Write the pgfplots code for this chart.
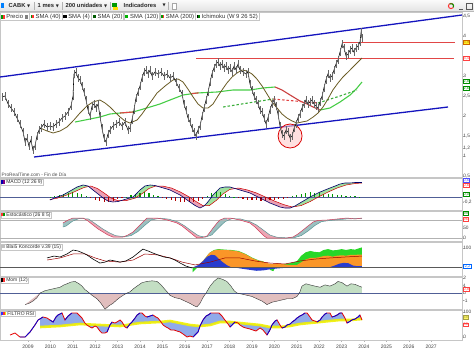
\documentclass[border=0pt]{standalone}
\usepackage{pgfplots}
\pgfplotsset{compat=1.18}
\usepackage{pgfplotstable}
\usepgfplotslibrary{fillbetween}
\usepackage{fontspec}
\setmainfont{Liberation Sans}
\newfontfamily\dejavu{DejaVu Sans}
\definecolor{chan}{RGB}{20,20,190}
\definecolor{hred}{RGB}{225,70,70}
\definecolor{smab}{RGB}{105,90,35}
\definecolor{smag}{RGB}{70,205,70}
\definecolor{macdg}{RGB}{160,225,160}
\definecolor{macdp}{RGB}{235,160,180}
\definecolor{kor}{RGB}{250,150,40}
\definecolor{kbl}{RGB}{40,60,205}
\definecolor{kgr}{RGB}{40,215,40}
\definecolor{momg}{RGB}{195,222,195}
\definecolor{momr}{RGB}{225,190,190}
\definecolor{rsib}{RGB}{125,155,230}
\definecolor{yel}{RGB}{240,240,0}
\definecolor{stt}{RGB}{90,150,150}
\definecolor{str}{RGB}{210,60,90}
\definecolor{zline}{RGB}{80,95,150}

\pgfplotstableread{
x y
2007.84 2.475
2007.97 2.50
2008.11 2.30
2008.24 2.20
2008.38 2.10
2008.51 1.95
2008.64 1.80
2008.78 1.60
2008.87 1.35
2008.96 1.45
2009.04 1.25
2009.13 1.40
2009.22 1.15
2009.31 1.25
2009.40 1.50
2009.49 1.65
2009.58 1.70
2009.71 1.80
2009.85 1.725
2009.98 1.75
2010.12 1.725
2010.25 1.80
2010.38 1.85
2010.52 1.95
2010.65 2.00
2010.79 2.10
2010.92 2.25
2011.01 2.50
2011.05 3.05
2011.14 3.10
2011.23 2.95
2011.32 2.90
2011.41 2.75
2011.50 2.60
2011.59 2.40
2011.68 2.15
2011.77 2.00
2011.86 2.25
2011.95 2.30
2012.04 2.20
2012.13 2.30
2012.21 2.00
2012.30 1.70
2012.39 1.45
2012.48 1.35
2012.57 1.55
2012.66 1.65
2012.79 1.75
2012.93 1.80
2013.06 1.85
2013.20 1.75
2013.33 1.85
2013.46 1.65
2013.55 1.70
2013.64 1.90
2013.73 2.15
2013.82 2.45
2013.91 2.60
2014.00 2.75
2014.09 2.95
2014.18 3.10
2014.27 3.15
2014.36 3.05
2014.45 3.15
2014.54 3.00
2014.67 3.10
2014.80 3.05
2014.94 3.10
2015.07 3.00
2015.21 3.05
2015.34 2.95
2015.47 3.00
2015.61 2.85
2015.74 2.70
2015.88 2.55
2015.96 2.30
2016.05 2.15
2016.14 1.95
2016.23 1.85
2016.32 1.70
2016.41 1.60
2016.50 1.50
2016.59 1.65
2016.68 1.75
2016.77 2.00
2016.86 2.20
2016.95 2.40
2017.04 2.60
2017.13 2.85
2017.21 3.05
2017.30 3.20
2017.39 3.30
2017.48 3.35
2017.57 3.25
2017.66 3.30
2017.75 3.20
2017.84 3.25
2017.93 3.15
2018.02 3.20
2018.11 3.10
2018.20 3.25
2018.29 3.15
2018.38 3.30
2018.46 3.15
2018.60 3.10
2018.73 3.05
2018.82 3.10
2018.91 2.80
2019.00 2.65
2019.09 2.50
2019.18 2.40
2019.27 2.30
2019.36 2.15
2019.45 2.10
2019.54 1.95
2019.63 1.80
2019.71 1.95
2019.80 2.15
2019.89 2.30
2019.98 2.40
2020.07 2.25
2020.16 2.05
2020.25 1.75
2020.34 1.55
2020.43 1.50
2020.52 1.65
2020.61 1.60
2020.70 1.45
2020.79 1.50
2020.88 1.70
2020.96 1.80
2021.05 1.95
2021.14 2.05
2021.23 2.20
2021.32 2.30
2021.41 2.40
2021.50 2.30
2021.59 2.35
2021.68 2.40
2021.77 2.30
2021.86 2.25
2021.95 2.20
2022.04 2.35
2022.13 2.50
2022.21 2.70
2022.30 2.90
2022.39 3.05
2022.48 2.95
2022.57 3.00
2022.66 3.15
2022.75 3.30
2022.84 3.40
2022.93 3.60
2023.02 3.80
2023.11 3.70
2023.20 3.50
2023.29 3.55
2023.38 3.65
2023.46 3.70
2023.55 3.60
2023.64 3.70
2023.73 3.75
2023.82 3.85
2023.87 4.10
2023.91 3.95
}\price

\pgfplotstableread{
x y
2009.54 1.70
2009.85 1.625
2010.12 1.575
2010.43 1.625
2010.74 1.725
2011.05 1.90
2011.32 2.075
2011.63 2.25
2011.90 2.35
2012.21 2.40
2012.44 2.325
2012.66 2.225
2012.88 2.10
2013.11 1.975
2013.33 1.875
2013.55 1.825
2013.87 1.90
2014.09 2.05
2014.31 2.225
2014.54 2.40
2014.76 2.575
2015.12 2.75
2015.47 2.90
2015.70 2.925
2015.92 2.85
2016.14 2.675
2016.37 2.475
2016.59 2.30
2016.81 2.20
2017.04 2.20
2017.26 2.30
2017.48 2.50
2017.66 2.65
2017.88 2.825
2018.11 2.975
2018.33 3.075
2018.55 3.15
2018.78 3.125
2019.00 3.05
2019.22 2.925
2019.45 2.75
2019.67 2.55
2019.89 2.35
2020.12 2.20
2020.34 2.05
2020.56 1.95
2020.79 1.875
2021.01 1.825
2021.23 1.85
2021.46 1.875
2021.73 1.975
2021.95 2.075
2022.17 2.225
2022.39 2.425
2022.61 2.65
2022.84 2.825
2023.06 2.975
2023.29 3.10
2023.51 3.225
2023.73 3.35
2023.91 3.45
}\smabrown

\pgfplotstableread{
x y
2009.98 -0.12
2010.29 0
2010.56 0.08
2010.88 0.24
2011.19 0.40
2011.46 0.48
2011.68 0.44
2011.90 0.28
2012.13 0.12
2012.35 -0.04
2012.57 -0.16
2012.79 -0.20
2013.02 -0.18
2013.24 -0.12
2013.46 -0.06
2013.69 0
2013.87 0.16
2014.00 0.28
2014.22 0.44
2014.45 0.48
2014.67 0.46
2014.89 0.40
2015.12 0.34
2015.34 0.28
2015.56 0.18
2015.79 0.08
2016.01 -0.06
2016.23 -0.20
2016.46 -0.34
2016.68 -0.44
2016.86 -0.36
2016.99 -0.24
2017.13 -0.08
2017.26 0.08
2017.44 0.24
2017.57 0.36
2017.79 0.40
2018.02 0.40
2018.24 0.34
2018.46 0.28
2018.69 0.22
2018.91 0.16
2019.13 0.06
2019.36 -0.04
2019.58 -0.14
2019.80 -0.24
2020.03 -0.32
2020.25 -0.40
2020.47 -0.44
2020.70 -0.44
2020.92 -0.36
2021.14 -0.24
2021.37 -0.12
2021.59 0
2021.81 0.10
2022.04 0.20
2022.26 0.28
2022.48 0.36
2022.71 0.44
2022.93 0.52
2023.15 0.56
2023.38 0.56
2023.60 0.58
2023.91 0.58
}\macd

\pgfplotstableread{
x y
2009.98 -0.10
2010.3 -0.05
2010.8 0.10
2011.2 0.26
2011.5 0.38
2011.8 0.44
2012.1 0.34
2012.4 0.16
2012.7 -0.04
2013.0 -0.14
2013.4 -0.14
2013.8 -0.04
2014.1 0.14
2014.4 0.34
2014.7 0.44
2015.0 0.44
2015.4 0.36
2015.8 0.20
2016.2 0.00
2016.5 -0.18
2016.8 -0.34
2017.1 -0.34
2017.4 -0.14
2017.7 0.12
2018.0 0.30
2018.4 0.36
2018.8 0.28
2019.2 0.16
2019.6 0.00
2020.0 -0.16
2020.4 -0.30
2020.8 -0.40
2021.2 -0.34
2021.6 -0.18
2022.0 0.02
2022.4 0.20
2022.8 0.36
2023.2 0.48
2023.6 0.54
2023.91 0.56
}\macdsig

\pgfplotstableread{
x y
2010.0 0.02
2010.2 0.05
2010.4 0.10
2010.6 0.14
2010.8 0.18
2011.0 0.20
2011.2 0.18
2011.4 0.12
2011.6 0.05
2011.8 -0.04
2012.0 -0.10
2012.2 -0.16
2012.4 -0.20
2012.6 -0.18
2012.8 -0.14
2013.0 -0.08
2013.2 -0.04
2013.4 0.02
2013.6 0.08
2013.8 0.14
2014.0 0.18
2014.2 0.20
2014.4 0.16
2014.6 0.10
2014.8 0.04
2015.0 -0.03
2015.2 -0.08
2015.4 -0.12
2015.6 -0.16
2015.8 -0.18
2016.0 -0.20
2016.2 -0.20
2016.4 -0.18
2016.6 -0.14
2016.8 -0.06
2017.0 0.06
2017.2 0.16
2017.4 0.22
2017.6 0.20
2017.8 0.12
2018.0 0.06
2018.2 0.02
2018.4 -0.04
2018.6 -0.08
2018.8 -0.10
2019.0 -0.12
2019.2 -0.12
2019.4 -0.14
2019.6 -0.14
2019.8 -0.12
2020.0 -0.10
2020.2 -0.08
2020.4 -0.06
2020.6 -0.03
2020.8 0.04
2021.0 0.10
2021.2 0.14
2021.4 0.18
2021.6 0.20
2021.8 0.18
2022.0 0.16
2022.2 0.14
2022.4 0.14
2022.6 0.12
2022.8 0.10
2023.0 0.08
2023.2 0.06
2023.4 0.04
2023.6 0.03
2023.8 0.02
}\macdhist

\pgfplotstableread{
x y
2010.56 75
2010.79 90
2011.01 100
2011.46 100
2011.68 85
2011.90 65
2012.13 45
2012.35 30
2012.57 15
2012.79 5
2013.24 5
2013.46 15
2013.69 30
2013.87 50
2014.00 65
2014.18 85
2014.31 100
2014.76 100
2015.21 90
2015.65 75
2015.88 60
2016.10 40
2016.32 20
2016.54 0
2016.77 2
2016.99 10
2017.13 30
2017.26 50
2017.44 75
2017.57 90
2017.79 100
2018.02 100
2018.46 90
2018.91 75
2019.13 55
2019.36 30
2019.54 10
2019.67 0
2020.25 0
2020.56 0
2020.83 5
2021.05 20
2021.28 40
2021.50 60
2021.73 80
2021.95 88
2022.35 90
2022.80 95
2023.24 100
2023.60 95
2023.91 100
}\stochk

\pgfplotstableread{
x y
2010.56 55
2010.7 60
2011.0 85
2011.3 98
2011.7 95
2012.0 72
2012.3 48
2012.6 28
2012.9 12
2013.3 6
2013.6 12
2013.9 32
2014.2 62
2014.5 90
2014.9 99
2015.3 94
2015.7 80
2016.0 60
2016.3 35
2016.6 12
2016.9 4
2017.2 15
2017.5 50
2017.8 82
2018.1 97
2018.5 95
2018.9 82
2019.2 65
2019.5 40
2019.8 15
2020.1 4
2020.5 1
2020.9 2
2021.2 12
2021.5 35
2021.8 62
2022.1 82
2022.5 88
2022.9 92
2023.3 96
2023.91 97
}\stochd

\pgfplotstableread{
x y
2009.85 48
2010.16 58
2010.43 53
2010.74 69
2011.01 90
2011.23 85
2011.46 74
2011.63 64
2011.90 42
2012.21 21
2012.44 26
2012.66 37
2012.88 32
2013.11 26
2013.37 32
2013.69 53
2013.91 74
2014.13 95
2014.36 85
2014.58 74
2014.80 64
2015.07 53
2015.34 48
2015.56 37
2015.79 21
2016.05 5
2016.32 -5
}\kblack

\pgfplotstableread{
x y
2009.85 37
2010.43 48
2011.01 69
2011.55 69
2012.00 48
2012.44 32
2013.11 26
2013.69 37
2014.22 69
2014.80 64
2015.34 48
2015.88 26
2016.46 11
2017.13 26
2017.79 48
2018.46 48
2019.13 32
2019.80 21
2020.47 16
2021.14 32
2021.81 42
2022.48 48
2023.15 53
2023.91 58
}\kbrown

\pgfplotstableread{
x y
2016.35 -28
2016.5 -10
2016.7 15
2016.9 45
2017.1 75
2017.3 90
2017.5 95
2017.8 92
2018.1 90
2018.4 85
2018.7 70
2019.0 50
2019.3 35
2019.5 30
2019.7 10
2019.8 -15
2019.95 -22
2020.1 10
2020.4 15
2020.7 20
2021.0 30
2021.2 60
2021.4 78
2021.6 85
2021.8 80
2022.0 78
2022.2 90
2022.4 95
2022.6 88
2022.8 90
2023.0 95
2023.2 90
2023.4 95
2023.6 92
2023.8 100
2023.91 104
}\kgreen

\pgfplotstableread{
x y
2016.5 0
2016.7 20
2016.9 45
2017.1 75
2017.3 88
2017.5 92
2017.8 90
2018.1 88
2018.4 82
2018.7 68
2019.0 48
2019.3 33
2019.5 28
2019.7 20
2019.9 15
2020.1 20
2020.4 15
2020.7 10
2021.0 10
2021.2 25
2021.4 40
2021.6 48
2021.8 48
2022.0 52
2022.2 58
2022.4 60
2022.6 55
2022.8 60
2023.0 62
2023.2 60
2023.4 64
2023.6 64
2023.8 66
2023.91 66
}\korange

\pgfplotstableread{
x y
2016.4 0
2016.6 10
2016.8 30
2017.0 55
2017.2 65
2017.35 62
2017.5 45
2017.7 25
2017.9 8
2018.05 0
2018.3 -4
2018.6 -10
2018.9 -15
2019.2 -20
2019.5 -18
2019.8 -12
2020.1 -8
2020.4 -5
2020.7 -3
2021.0 -2
2021.4 -2
2021.8 -3
2022.2 -3
2022.5 0
2022.7 8
2022.9 18
2023.1 22
2023.3 20
2023.5 8
2023.7 4
2023.91 5
}\kblue

\pgfplotstableread{
x y
2008.87 -1.54
2009.04 -1.38
2009.22 -1.08
2009.40 -0.62
2009.54 0
2009.76 0.31
2009.98 0.46
2010.21 0.62
2010.43 0.77
2010.61 1.08
2010.74 1.23
2010.92 1.46
2011.10 1.54
2011.28 1.23
2011.41 0.92
2011.54 0.46
2011.68 0.15
2011.86 -0.31
2012.08 -0.77
2012.26 -1.38
2012.44 -2.15
2012.62 -1.69
2012.79 -1.38
2013.02 -0.77
2013.24 -0.31
2013.42 0
2013.55 0.15
2013.73 0.62
2013.87 0.92
2014.09 1.38
2014.31 1.54
2014.54 1.62
2014.76 1.54
2014.94 1.08
2015.07 0.62
2015.21 0.15
2015.34 -0.31
2015.56 -0.62
2015.79 -0.77
2016.01 -1.08
2016.23 -1.38
2016.41 -1.69
2016.54 -1.85
2016.68 -1.38
2016.81 -0.62
2016.95 0
2017.13 0.92
2017.30 1.54
2017.48 2.0
2017.66 1.85
2017.88 1.54
2018.06 0.92
2018.20 0.31
2018.33 0
2018.55 -0.15
2018.78 -0.31
2019.00 -0.46
2019.22 -0.77
2019.45 -1.08
2019.67 -1.54
2019.89 -1.23
2020.12 -1.08
2020.34 -0.92
2020.56 -0.77
2020.79 -0.77
2021.01 -0.46
2021.14 0.15
2021.23 0.92
2021.41 1.23
2021.59 1.08
2021.81 0.92
2022.04 0.77
2022.26 1.08
2022.48 0.92
2022.71 1.23
2022.84 1.54
2023.02 1.38
2023.24 0.92
2023.42 1.23
2023.60 1.15
2023.78 0.92
2023.91 0.77
}\mom

\pgfplotstableread{
x y
2008.20 8
2008.42 16
2008.64 0
2008.87 0
2009.09 20
2009.31 48
2009.45 68
2009.67 80
2009.85 76
2009.98 68
2010.12 60
2010.25 80
2010.34 88
2010.52 96
2010.65 68
2010.79 84
2010.96 96
2011.19 96
2011.32 84
2011.41 76
2011.54 56
2011.63 48
2011.77 40
2011.86 36
2011.99 44
2012.08 40
2012.21 24
2012.30 16
2012.44 16
2012.53 20
2012.66 48
2012.75 60
2012.88 56
2012.97 60
2013.11 68
2013.20 60
2013.33 40
2013.42 36
2013.55 52
2013.64 60
2013.78 76
2013.87 88
2014.00 96
2014.09 96
2014.22 84
2014.31 80
2014.45 84
2014.58 88
2014.71 80
2014.80 76
2014.94 60
2015.03 48
2015.16 40
2015.25 36
2015.38 28
2015.52 28
2015.65 24
2015.79 20
2015.92 12
2016.10 0
2016.23 4
2016.37 0
2016.50 12
2016.59 20
2016.68 44
2016.81 68
2016.95 84
2017.04 88
2017.17 96
2017.35 96
2017.53 96
2017.66 84
2017.79 68
2017.93 52
2018.02 40
2018.11 48
2018.24 60
2018.38 56
2018.46 48
2018.60 40
2018.73 36
2018.91 32
2019.04 28
2019.18 24
2019.36 36
2019.49 28
2019.67 8
2019.80 28
2019.89 48
2020.03 64
2020.12 68
2020.25 48
2020.34 36
2020.47 40
2020.56 48
2020.70 52
2020.79 60
2020.92 68
2021.01 76
2021.14 84
2021.23 88
2021.37 96
2021.46 96
2021.59 80
2021.68 68
2021.81 64
2021.90 60
2022.04 68
2022.13 80
2022.26 92
2022.35 96
2022.48 96
2022.57 80
2022.71 84
2022.80 88
2022.93 96
2023.02 96
2023.15 76
2023.24 56
2023.33 60
2023.46 68
2023.60 72
2023.73 80
2023.82 88
2023.91 68
}\rsi

\pgfplotstableread{
x y
2009.54 40
2010.43 44
2011.32 52
2012.21 48
2013.11 44
2014.00 56
2014.89 60
2015.34 64
2015.79 56
2016.23 48
2016.68 44
2017.13 48
2017.57 60
2018.02 60
2018.46 56
2018.91 52
2019.36 48
2019.80 40
2020.25 40
2020.70 44
2021.14 52
2021.59 56
2022.04 60
2022.48 64
2022.93 68
2023.38 68
2023.91 72
}\rsiyel

\pgfplotsset{panel/.style={scale only axis, width=462pt, xmin=2007.75, xmax=2028.375,
  anchor=north west, axis line style={draw=gray!45, line width=0.4pt},
  xtick=\empty, yticklabel pos=right, ytick pos=right, tick align=outside,
  major tick length=1.5pt, tick style={gray!60, line width=0.3pt},
  yticklabel style={font=\fontsize{4.8}{5}\selectfont, text=black!75, xshift=-1pt, inner sep=0.6pt},
  /pgf/number format/use comma, /pgf/number format/assume math mode=true}}

\newcommand{\tg}[4]{\node[anchor=west, draw=#2, fill=#3, inner sep=0.4pt, font=\fontsize{3.9}{4.2}\selectfont, text=#2] at (463pt,-#1pt) {#4};}
\newcommand{\sq}[1]{\textcolor{#1}{\rule{3.4pt}{3.4pt}}}
\newcommand{\sqq}[2]{\textcolor{#1}{\rule{1.7pt}{3.4pt}}\textcolor{#2}{\rule{1.7pt}{3.4pt}}}

\begin{document}
\begin{tikzpicture}

% ---------------- main price panel
\begin{axis}[panel, at={(0pt,-12pt)}, height=165pt, ymin=0.475, ymax=4.6,
  ytick={0.5,1,1.2,1.5,2,2.5,3,4,4.5}]
\addplot[chan, line width=1.3pt] coordinates {(2007.75,2.975) (2028.375,4.525)};
\addplot[chan, line width=1.3pt] coordinates {(2009.27,0.975) (2027.75,2.225)};
\addplot[hred, line width=0.8pt] coordinates {(2023.06,3.83) (2028.06,3.83)};
\addplot[hred, line width=0.8pt] coordinates {(2016.50,3.45) (2028.02,3.45)};
\draw[red!85!black, line width=0.8pt, fill=red!20, fill opacity=0.6] (axis cs:2020.70,1.5) circle[radius=12pt];
\addplot[smag, line width=1.1pt] coordinates {(2011.10,1.85) (2011.77,1.925) (2012.21,1.975) (2012.66,2.05) (2013.11,2.075) (2013.69,2.10) (2014.00,2.15) (2014.45,2.225) (2014.89,2.30) (2015.34,2.40) (2015.92,2.525) (2016.54,2.575) (2017.44,2.60) (2018.15,2.65) (2018.91,2.65) (2019.49,2.70) (2020.03,2.725)};
\addplot[hred, line width=1.1pt] coordinates {(2013.11,2.075) (2013.69,2.10)};
\addplot[hred, line width=1.1pt] coordinates {(2016.30,2.56) (2016.62,2.578)};
\addplot[hred!90!black, line width=1.1pt] coordinates {(2020.03,2.725) (2020.34,2.65) (2020.70,2.525) (2021.14,2.375) (2021.46,2.30) (2021.73,2.225) (2022.04,2.15)};
\addplot[smag, line width=1.1pt] coordinates {(2022.04,2.15) (2022.48,2.20) (2022.93,2.35) (2023.38,2.525) (2023.69,2.70) (2023.91,2.85)};
\addplot[smag!85!black, line width=1.1pt, dash pattern=on 2.5pt off 2pt] coordinates {(2017.71,2.225) (2018.82,2.325) (2019.94,2.425)};
\addplot[hred, line width=1.1pt, dash pattern=on 2.5pt off 2pt] coordinates {(2019.94,2.425) (2020.92,2.375) (2021.95,2.325)};
\addplot[smag!85!black, line width=1.1pt, dash pattern=on 2.5pt off 2pt] coordinates {(2021.95,2.325) (2022.93,2.50) (2023.69,2.65)};
\addplot[smab, line width=0.8pt] table {\smabrown};
\addplot[black, line width=0.55pt, error bars/.cd, y dir=both, y fixed=0.1, error mark=none, error bar style={line width=0.45pt, black!60}] table {\price};
\end{axis}

% ---------------- MACD
\begin{axis}[panel, at={(0pt,-178pt)}, height=32pt, ymin=-0.52, ymax=0.76, ytick={-0.2}]
\addplot[draw=none, name path=macd] table {\macd};
\addplot[draw=none, name path=sig] table {\macdsig};
\addplot[fill=macdg, draw=none] fill between[of=macd and sig, soft clip={domain=2010.3:2011.7}];
\addplot[fill=macdg, draw=none] fill between[of=macd and sig, soft clip={domain=2013.5:2014.8}];
\addplot[fill=macdg, draw=none] fill between[of=macd and sig, soft clip={domain=2016.8:2018.1}];
\addplot[fill=macdg, draw=none] fill between[of=macd and sig, soft clip={domain=2020.8:2023.91}];
\addplot[fill=macdp, draw=none] fill between[of=macd and sig, soft clip={domain=2011.7:2013.5}];
\addplot[fill=macdp, draw=none] fill between[of=macd and sig, soft clip={domain=2014.8:2016.8}];
\addplot[fill=macdp, draw=none] fill between[of=macd and sig, soft clip={domain=2018.1:2020.8}];
\addplot[zline, line width=0.8pt] coordinates {(2007.75,0) (2028.375,0)};
\addplot[ycomb, green!60!black, line width=1.2pt, restrict y to domain=0:1] table {\macdhist};
\addplot[ycomb, red!70!black, line width=1.2pt, restrict y to domain=-1:0] table {\macdhist};
\addplot[red!80!black, line width=0.5pt] table {\macdsig};
\addplot[blue!40!black, line width=0.6pt] table {\macd};
\end{axis}

% ---------------- Stochastic
\begin{axis}[panel, at={(0pt,-211pt)}, height=30pt, ymin=-15, ymax=135, ytick={0,50}]
\addplot[gray!60, line width=0.6pt] coordinates {(2007.75,90) (2028.375,90)};
\addplot[gray!60, line width=0.6pt] coordinates {(2007.75,0) (2028.375,0)};
\addplot[draw=none, name path=sk] table {\stochk};
\addplot[draw=none, name path=sd] table {\stochd};
\addplot[fill=stt!60, draw=none] fill between[of=sk and sd, soft clip={domain=2010.56:2011.4}];
\addplot[fill=stt!60, draw=none] fill between[of=sk and sd, soft clip={domain=2013.2:2014.6}];
\addplot[fill=stt!60, draw=none] fill between[of=sk and sd, soft clip={domain=2016.7:2017.9}];
\addplot[fill=stt!60, draw=none] fill between[of=sk and sd, soft clip={domain=2020.4:2023.91}];
\addplot[fill=str!45, draw=none] fill between[of=sk and sd, soft clip={domain=2011.4:2013.2}];
\addplot[fill=str!45, draw=none] fill between[of=sk and sd, soft clip={domain=2014.6:2016.7}];
\addplot[fill=str!45, draw=none] fill between[of=sk and sd, soft clip={domain=2017.9:2020.4}];
\addplot[stt, line width=0.5pt] table {\stochd};
\addplot[str, line width=0.5pt] table {\stochk};
\end{axis}

% ---------------- Koncorde
\begin{axis}[panel, at={(0pt,-242pt)}, height=34pt, ymin=-47.7, ymax=132.5, ytick={100}]
\addplot[fill=kgr, draw=none] table {\kgreen} \closedcycle;
\addplot[fill=kor, draw=none] table {\korange} \closedcycle;
\addplot[fill=kbl, draw=none] table {\kblue} \closedcycle;
\addplot[gray!70!black, line width=1pt] coordinates {(2007.75,0) (2028.375,0)};
\addplot[red!60!black, line width=0.5pt] table {\kbrown};
\addplot[black, line width=0.6pt] table {\kblack};
\end{axis}

% ---------------- Momentum
\begin{axis}[panel, at={(0pt,-277pt)}, height=32pt, ymin=-2.13, ymax=2.13, ytick={-1,0,1,2}]
\addplot[draw=none, name path=mm] table {\mom};
\addplot[draw=none, name path=mz] coordinates {(2007.75,0) (2028.375,0)};
\addplot[fill=momg, draw=none] fill between[of=mm and mz, soft clip={(2008.87,0) rectangle (2023.91,3)}];
\addplot[fill=momr, draw=none] fill between[of=mm and mz, soft clip={(2008.87,-3) rectangle (2023.91,0)}];
\addplot[zline, line width=0.8pt] coordinates {(2007.75,0) (2028.375,0)};
\addplot[black!80, line width=0.4pt] table {\mom};
\end{axis}

% ---------------- Filtro RSI
\begin{axis}[panel, at={(0pt,-310pt)}, height=30pt, ymin=-12, ymax=108, ytick={0,100},
  xtick={2009,...,2027}, xtick pos=bottom, xticklabel pos=bottom,
  xticklabel style={font=\fontsize{5}{5}\selectfont, text=black!75},
  xticklabel={\pgfmathprintnumber[1000 sep={},precision=0,fixed]{\tick}}]
\addplot[draw=none, name path=rs] table {\rsi};
\addplot[draw=none, name path=ry] table {\rsiyel};
\addplot[fill=rsib, fill opacity=0.85, draw=none] fill between[of=rs and ry, soft clip={domain=2009.54:2023.91}];
\addplot[yel, line width=2.6pt, opacity=0.9] table {\rsiyel};
\addplot[red!90!black, line width=0.8pt] table {\rsi};
\foreach \a/\b in {2008.64/2009.67, 2009.98/2010.52, 2010.65/2010.96, 2012.53/2012.75, 2013.42/2014.0, 2014.31/2014.58, 2016.37/2017.17, 2018.02/2018.24, 2019.67/2020.12, 2020.34/2021.37, 2021.9/2022.35, 2022.57/2023.02, 2023.24/2023.82} {
  \edef\tmp{\noexpand\addplot[blue!85!black, line width=0.8pt, restrict x to domain=\a:\b] table {\noexpand\rsi};}
  \tmp
}
\end{axis}

% ---------------- toolbar
\shade[top color=gray!4, bottom color=gray!22] (0,0) rectangle (474pt,-11.5pt);
\draw[gray!55] (0,-11.5pt) -- (474pt,-11.5pt);
\fill[blue!50!cyan] (1pt,-3pt) rectangle (4pt,-8pt);
\begin{scope}[every node/.style={font=\fontsize{5.8}{6}\selectfont, inner sep=0.5pt, anchor=west, text=black!85}]
\node at (8pt,-5.8pt) {\textbf{CABK} {\dejavu\fontsize{4}{4}\selectfont▼}};
\draw[gray!60] (34.5pt,-2pt) -- (34.5pt,-10pt);
\node at (37pt,-5.8pt) {\textbf{1 mes} {\dejavu\fontsize{4}{4}\selectfont▼}};
\draw[gray!60] (62.5pt,-2pt) -- (62.5pt,-10pt);
\node at (65pt,-5.8pt) {\textbf{200 unidades} {\dejavu\fontsize{4}{4}\selectfont▼}};
\draw[gray!60] (110pt,-2pt) -- (110pt,-10pt);
\fill[green!60!black] (112pt,-3pt) rectangle (117pt,-7pt);
\fill[yellow!80!orange] (113pt,-7pt) rectangle (118pt,-10pt);
\node at (123pt,-5.8pt) {\textbf{Indicadores}};
\node at (162pt,-5.8pt) {{\dejavu\fontsize{4}{4}\selectfont▼}};
\draw[gray!60] (168pt,-2pt) -- (168pt,-10pt);
\draw[gray!70, fill=white] (172pt,-3pt) rectangle (176pt,-9pt);
\end{scope}
\draw[red!80, line width=1pt] (451pt,-6pt) circle[radius=2.6pt];
\draw[green!60!black, line width=1pt] (451pt,-6pt) ++(-30:2.6pt) arc[start angle=-30, end angle=120, radius=2.6pt];
\draw[gray!70!black, line width=0.6pt] (459pt,-9pt) -- (463pt,-9pt);
\draw[gray!70!black, line width=0.5pt] (466pt,-3pt) rectangle (472pt,-9pt);

% ---------------- legend row
\begin{scope}[every node/.style={font=\fontsize{5.9}{6}\selectfont, inner sep=1.1pt, draw=gray!45, fill=white, anchor=west, text=black!80, minimum height=8pt}]
\node (l1) at (0pt,-16.5pt) {\sqq{green!60!black}{red!80} Precio \textcolor{gray}{\rule{3.4pt}{3.4pt}}};
\node (l2) at (l1.east) {\sqq{green!60!black}{red!80} SMA (40)};
\node (l3) at (l2.east) {\sq{black} SMA (4)};
\node (l4) at (l3.east) {\sq{green!35!black} SMA (20)};
\node (l5) at (l4.east) {\sq{green!70!black} SMA (120)};
\node (l6) at (l5.east) {\sqq{green!60!black}{red!80} SMA (200)};
\node (l7) at (l6.east) {\sqq{black}{green!50!black} Ichimoku (W 9 26 52)};
\end{scope}

% ---------------- panel labels
\node[anchor=west, font=\fontsize{4.8}{5}\selectfont, text=black!70, inner sep=0.5pt] at (1pt,-174.3pt) {ProRealTime.com - Fin de Día};
\begin{scope}[every node/.style={font=\fontsize{5}{5}\selectfont, inner sep=0.8pt, draw=gray!45, fill=white, anchor=west, text=black!80}]
\node at (0.5pt,-182.5pt) {\sqq{blue!70!black}{violet} MACD (12 26 9)};
\node at (0.5pt,-215pt) {\sqq{red!80}{green!60!black} Estocástico (26 8 5)};
\node at (0.5pt,-247pt) {\sq{gray!50} Blai5 Koncorde v.39 (15)};
\node at (0.5pt,-280.5pt) {\sqq{black}{red!80} Mom (12)};
\node at (0.5pt,-313.5pt) {\sqq{blue!80}{red!80}\textcolor{yel}{\rule{1pt}{3.4pt}} FILTRO RSI};
\end{scope}

% ---------------- right-side value tags
\tg{42}{orange!80!black}{yellow!85}{3,9}
\tg{58}{red!75}{white}{3,4}
\tg{81.5}{green!55!black}{white}{2,8}
\tg{88}{green!55!black}{white}{2,6}
\tg{180.5}{blue!70}{white}{0,6}
\tg{185}{red!75}{white}{0,6}
\tg{194.5}{green!55!black}{white}{0,0}
\tg{213}{green!55!black}{white}{99}
\tg{219}{red!75}{white}{96}
\tg{266.5}{blue!60!cyan}{white}{-2,2}
\tg{289.6}{red!75}{white}{0,8}
\tg{317}{yellow!60!black}{yellow!60}{68}
\tg{324.5}{red!75}{white}{58}
\pgfresetboundingbox
\path[use as bounding box] (0,0) rectangle (474pt,-349pt);
\end{tikzpicture}
\end{document}
